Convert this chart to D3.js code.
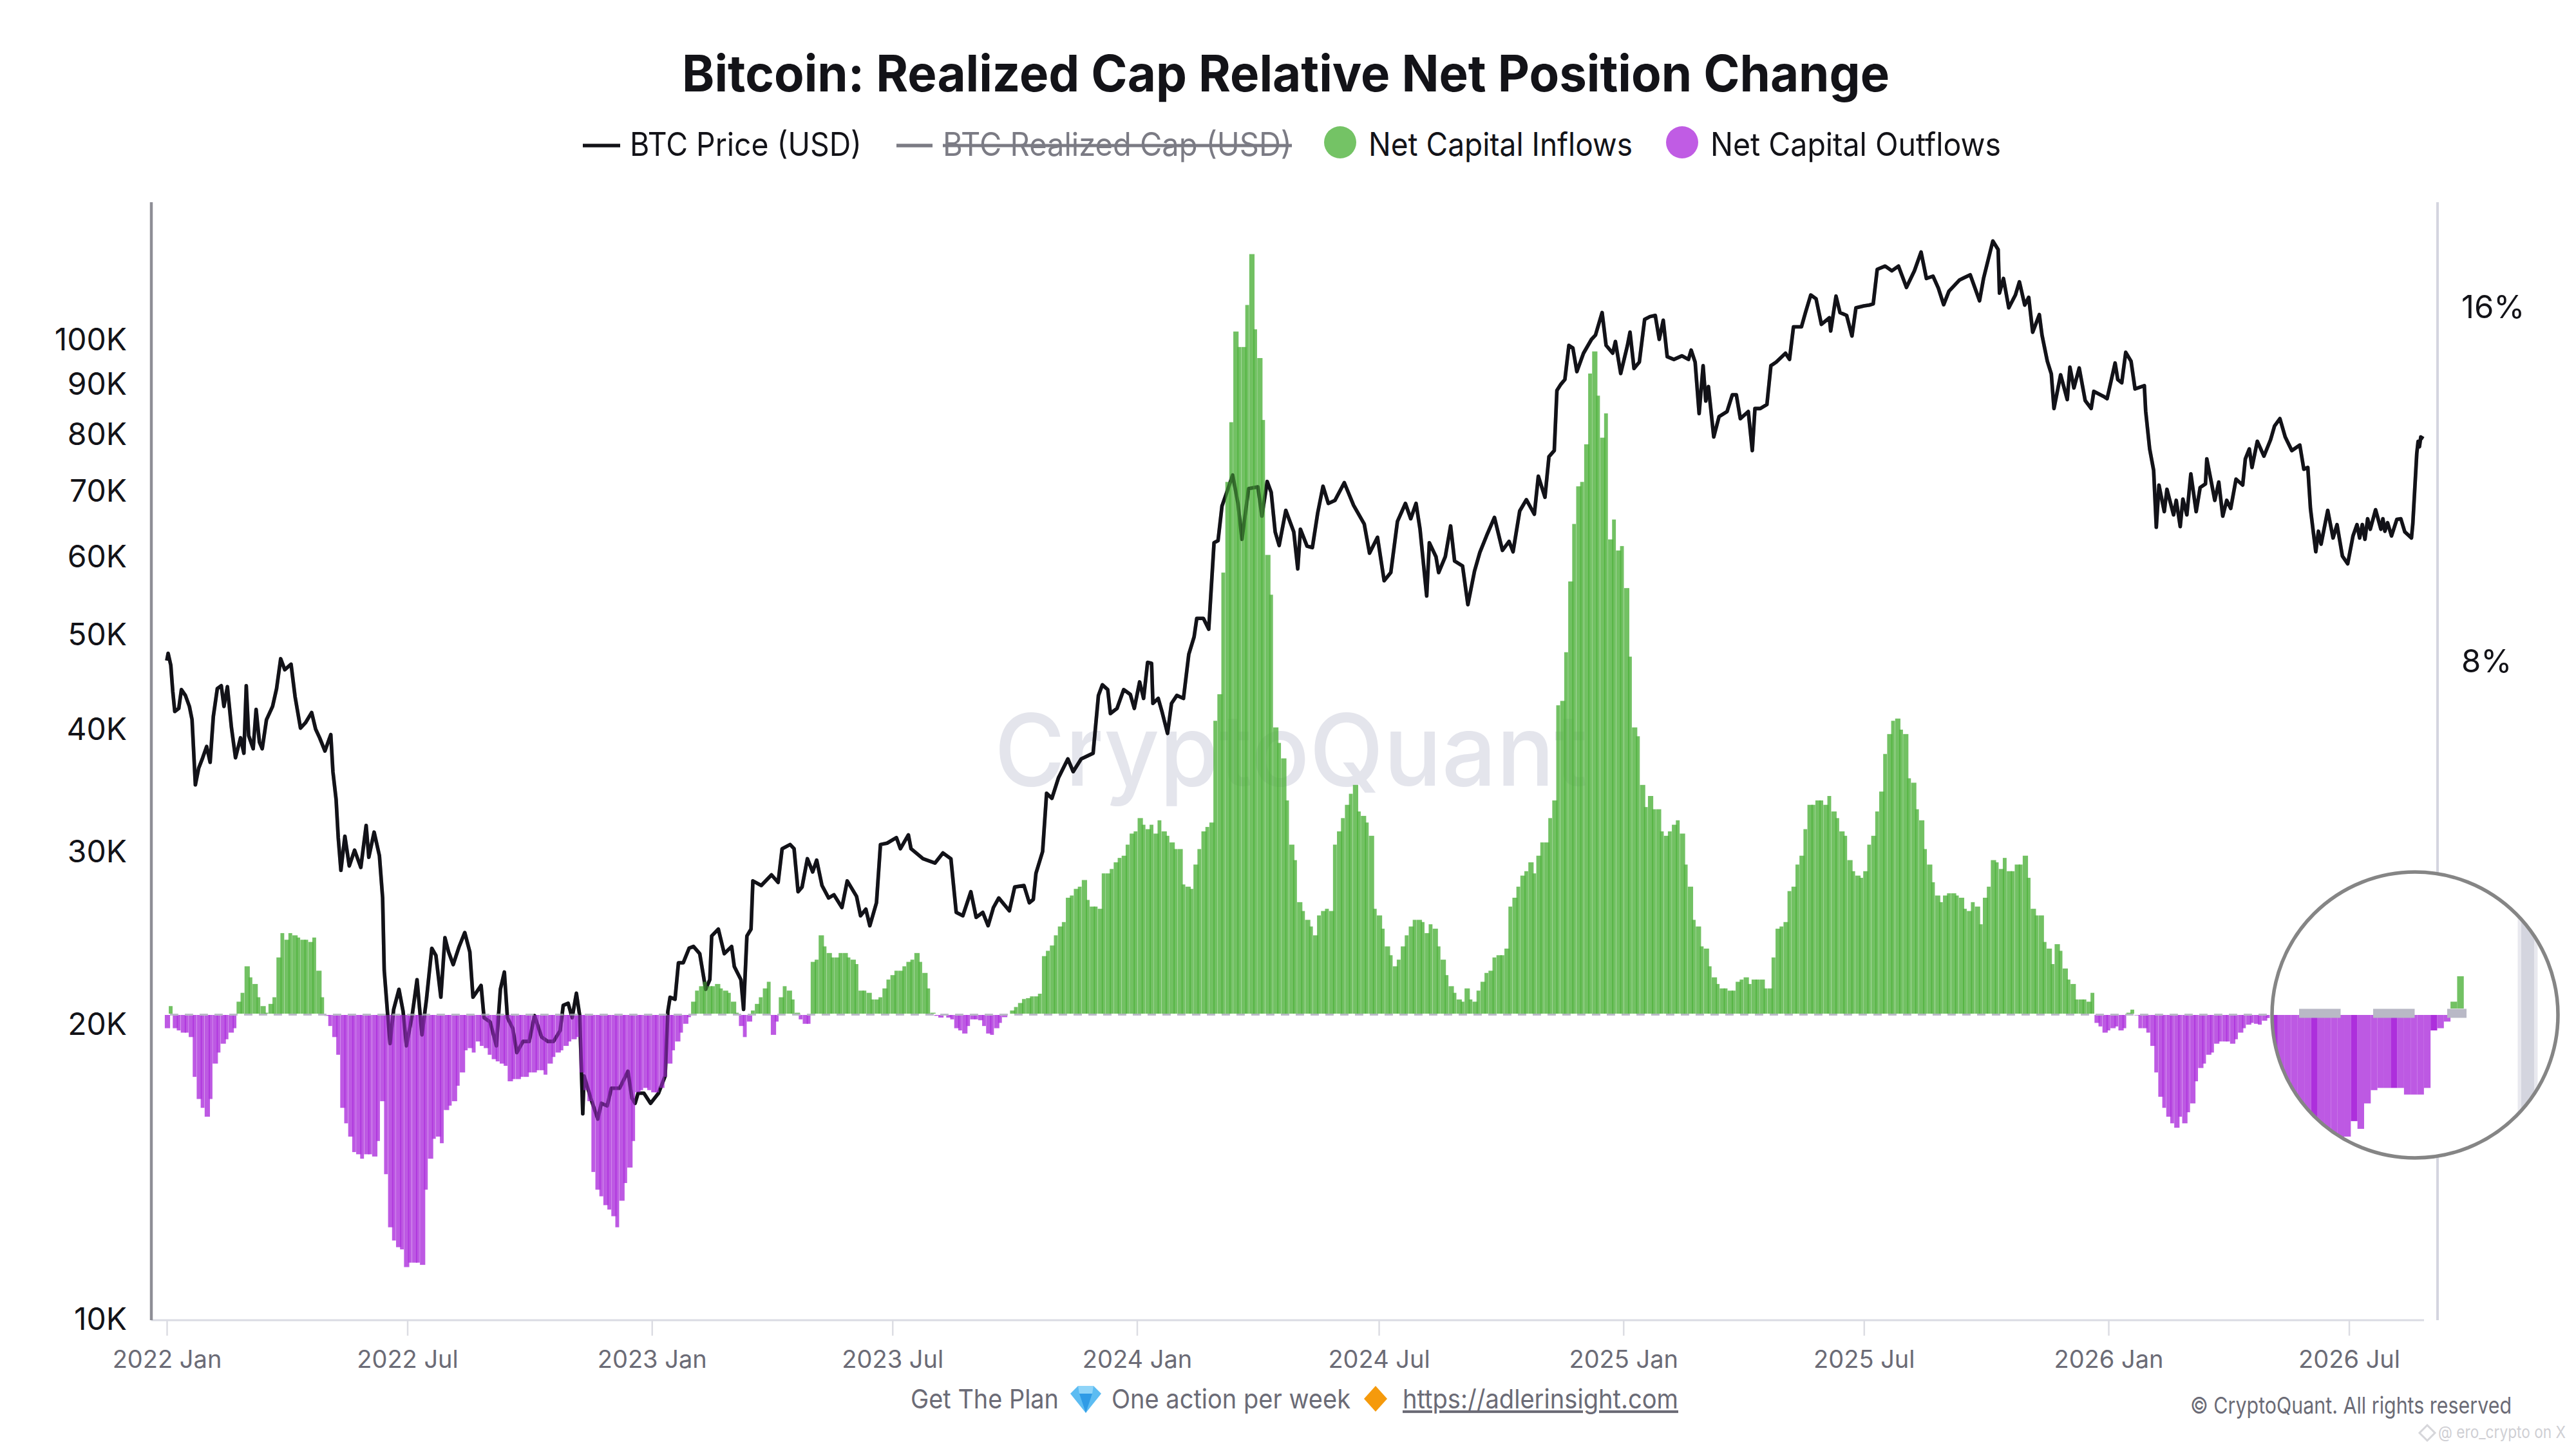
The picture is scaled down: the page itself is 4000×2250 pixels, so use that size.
<!DOCTYPE html>
<html><head><meta charset="utf-8">
<style>html,body{margin:0;padding:0;background:#fff}svg{display:block}text{font-family:Inter,"Noto Sans",sans-serif}</style>
<script src="https://cdn.jsdelivr.net/npm/d3@7/dist/d3.min.js"></script></head><body>
<svg id="c" width="4000" height="2250" viewBox="0 0 4000 2250"></svg>
<script>
const titleText="Bitcoin: Realized Cap Relative Net Position Change";
const xTickDates=["2022-01-01","2022-07-01","2023-01-01","2023-07-01","2024-01-01","2024-07-01","2025-01-01","2025-07-01","2026-01-01","2026-07-01"];
const xTickLabels=["2022 Jan","2022 Jul","2023 Jan","2023 Jul","2024 Jan","2024 Jul","2025 Jan","2025 Jul","2026 Jan","2026 Jul"];
const priceTicksK=[10,20,30,40,50,60,70,80,90,100];
const flowTicks=[8,16];
// [days since 2022-01-01, BTC price in thousand USD]
const pricePoints=[[0,47],[1,47.8],[3,46.5],[4.5,43.7],[6,41.7],[9,42],[11,43.9],[14,43.3],[17,42.2],[19,40.9],[21.5,35.1],[24,36.5],[27,37.4],[30,38.4],[32.6,37],[35,41.2],[38,44],[41,44.3],[43,42.2],[45.6,44.2],[48.6,40.2],[51.7,37.4],[55.5,39.2],[58,37.8],[59.8,44.3],[61.6,39.4],[65,38.2],[67.2,41.9],[69.7,38.8],[71.8,38.2],[75,40.9],[79.6,42.2],[82.6,44],[85.7,47.2],[88.8,46],[93.5,46.6],[96.5,43.2],[100.6,40.1],[104.3,40.6],[109,41.6],[112,40],[115,39.2],[119,38],[123.4,39.5],[125,36.2],[127.4,33.9],[129,31],[131,28.7],[134,31.1],[137.3,29],[141.3,30.1],[146,28.9],[150,31.9],[152,29.6],[156,31.4],[160,29.7],[162.4,26.9],[163.6,22.7],[166,20.6],[168,19.1],[170.7,20.7],[174.7,21.7],[177.8,20.6],[180.3,19],[184.6,20.4],[188.3,22.2],[190,20.9],[192,19.5],[195.4,21.2],[199.4,23.9],[202.5,23.5],[206.2,21.3],[209.3,24.5],[212,23.7],[215.5,23],[220,24],[224.2,24.8],[228,23.7],[230.4,21.3],[236.5,21.9],[238.7,20.3],[243.3,20.1],[248,19],[251,21.7],[254,22.6],[256.3,20.3],[260.3,19.8],[263.4,18.7],[268,19.2],[272.7,19.2],[276.7,20.4],[282,19.4],[286.6,19.2],[291,19.2],[296,19.7],[298.3,20.9],[302,21],[305,20.3],[308.2,21.5],[310.7,20.4],[313,16.2],[314,17.7],[319,16.8],[324.3,16],[327,16.6],[331.4,16.5],[334.5,17.2],[340.7,17.2],[347,17.9],[350,16.8],[352.4,16.6],[354.6,17],[359,17],[364,16.6],[370,17],[375,17.7],[377,20.6],[378.7,21.3],[382.4,21.2],[385,23.1],[388.6,23.1],[393,23.9],[396.3,24],[401,23.6],[405.5,21.7],[408.6,22.2],[410,24.6],[415,25],[419.5,23.6],[425,24],[427,22.9],[432,22.2],[434,20.7],[436.5,24.6],[439.6,25],[441,28],[447.3,27.7],[455,28.4],
[460,27.9],[463,30.2],[469,30.5],[472,30.2],[475,27.3],[478,27.6],[482,29.5],[486,28.6],[489,29.4],[493,27.7],[498,26.9],[502,27.1],[508,26.3],[512,28],[519,27],[522,25.8],[526,26.2],[529,25.2],[534,26.6],[537,30.5],[542,30.6],[549,31],[552,30.2],[558,31.2],[560,30.2],[569,29.5],[578,29.2],[584,29.9],[590,29.5],[594,26],[599,25.8],[605,27.3],[609,25.7],[614,26],[618,25.2],[622,26.3],[626,26.9],[634,26.1],[638,27.6],[645,27.7],[649,26.6],[652,26.8],[654,28.5],[659,30],[662,34.4],[666,34],[671,35.7],[678,37.3],[682,36.2],[688,37.3],[697,37.8],[701,43.3],[704,44.4],[708,43.9],[710,41.5],[715,42],[720,43.9],[725,43.4],[728,42],[732,44.7],[735,43],[738,46.8],[741,46.7],[742,42.5],[746,43],[749,41.6],[753,39.6],[756,42.5],[760,43.3],[765,43],[769,47.7],[773,49.7],[775,51.9],[780,51.9],[784,50.6],[788,62],[791,62.3],[794,67.6],[799,70.7],[802,72.7],[806,68],[809,62.5],[814,70.4],[821,70.7],[824,66],[828,71.6],[831,69.8],[834,63.6],[837,61.6],[842,66.9],[848,63.6],[851,58.3],[853,64],[858,61.5],[862,61.3],[866,66.5],[870,70.8],[874,68],[879,68.5],[886,71.4],[893,67.7],[901,64.8],[905,60.5],[911,62.8],[916,56.7],[921,57.8],[926,65.2],[932,68],[936,65.6],[940,68],[943,64],[948,54.7],[950,62],[955,60],[957,57.8],[962,60],[966,64.5],[969,59.4],[975,58.7],[979,53.6],[984,58],[988,60.6],[993,63],[999,65.8],[1005,60.9],[1010,62.2],[1013,60.7],[1018,66.8],[1023,68.6],[1029,66.3],[1032,72.5],[1037,69],
[1040,75.9],[1044,77],[1046,88.7],[1049,90],[1052,91],[1055,98.6],[1058,98],[1061,92.7],[1066,96.8],[1072,100],[1075,101],[1080,106.5],[1083,98.6],[1088,96.8],[1090,99.5],[1094,92.3],[1099,98.5],[1101,101.7],[1104,93.4],[1108,94.8],[1112,104.8],[1116,105.5],[1120,105.8],[1123,100],[1126,104.6],[1129,96],[1134,95.4],[1140,96.2],[1145,95.4],[1147,97.5],[1150,94.8],[1153,84],[1156,94],[1158,86.5],[1160,89.5],[1164,79.5],[1168,83.4],[1174,84.4],[1178,87.8],[1181,87.8],[1184,83],[1190,84.4],[1193,77],[1195,85],[1199,85],[1204,85.8],[1207,94],[1211,94.8],[1218,96.8],[1221,95.4],[1224,103],[1230,103],[1233,106.5],[1237,111],[1241,110],[1245,103.6],[1251,105.2],[1252,102],[1256,110.7],[1259,106.5],[1264,105.8],[1268,100.8],[1271,107.7],[1277,108.2],[1281,108.4],[1284,108.7],[1287,117.9],[1293,118.8],[1298,117.5],[1303,118.8],[1309,113],[1315,117.5],[1320,122.8],[1324,115.4],[1329,116],[1333,112.8],[1337,108.5],[1341,112],[1349,115],[1357,116.4],[1364,109.5],[1367,115.4],[1374,126],[1378,123.5],[1379,111.5],[1382,115.4],[1386,107.7],[1391,111],[1394,114.5],[1398,108.4],[1401,110.4],[1404,101.7],[1409,106],[1411,101],[1415,95],[1418,92.2],[1420,85],[1425,92],[1430,86.8],[1432,93.7],[1435,89.2],[1439,93.5],[1443.5,86.6],[1448,85],[1450,88.5],[1457,87.5],[1460,87],[1466,94.6],[1468,91],[1471,90.3],[1474,97],[1478,95],[1481,89],[1488,89.7],[1489,84.5],[1492,77.3],[1495,73.5],[1497,64.3],[1499,71],[1503,66.7],[1505,70.3],[1510,66.2],[1512,68.5],[1515,64.4],[1517,68.7],[1520,66.2],[1523,72.9],[1527,66.7],[1530,70.6],[1534,71.2],[1535,75.5],[1539,70.8],[1541,68.5],[1544,71.5],[1547,66],[1550,68.5],[1553,67.2],[1557,72],[1562,71],[1564,75.5],[1567,77.3],[1569,74],[1573,78.7],[1578,76],[1583,79],[1586,81.6],[1590,83],[1594,79.5],[1599,77],[1605,78],[1608,73.7],[1611,74],[1613,67.2],[1615,63.8],[1617,60.7],[1619,63.7],[1621,61.8],[1626,66.9],[1630,62.7],[1633,64.7],[1637,60.1],[1641,59],[1645,63],[1648,64.7],[1650,62.7],[1652,64.7],[1654,62.5],[1656,65.6],[1658,64],[1662,67],[1666,64],[1667.5,65.6],[1669,63.7],[1671,65],[1674,63],[1678,65.5],[1681,65.6],[1684,63.6],[1689,62.7],[1690,64.8],[1693,76.5],[1694,78.7],[1695,77.7],[1696,79.5],[1698,79.2]];
// net position change, percent, one value per three days from 2022-01-01
const flowValues=[-.3,.2,-.3,-.35,-.4,-.4,-.5,-1.4,-1.9,-2.1,
-2.3,-1.9,-1.1,-.85,-.65,-.55,-.4,-.3,.3,.5,
1.1,.85,.7,.4,.2,.05,.25,.4,1.3,1.85,
1.7,1.85,1.8,1.75,1.7,1.7,1.65,1.75,1.0,.4,
-.02,-.25,-.5,-.9,-2.1,-2.45,-2.75,-3.1,-3.15,-3.25,
-3.15,-3.15,-3.2,-2.85,-1.95,-3.6,-4.8,-5.1,-5.25,-5.3,
-5.7,-5.6,-5.6,-5.6,-5.65,-3.95,-3.25,-2.8,-2.75,-2.9,
-2.15,-2.05,-1.95,-1.6,-1.3,-.8,-.75,-.85,-.6,-.7,
-.75,-.9,-1,-1.05,-1.1,-1.15,-1.5,-1.45,-1.45,-1.4,
-1.4,-1.3,-1.3,-1.25,-1.25,-1.35,-1.1,-.95,-.85,-.8,
-.7,-.6,-.55,-.5,-1.3,-1.7,-1.95,-3.55,-3.95,-4.1,
-4.3,-4.4,-4.55,-4.8,-4.2,-3.8,-3.45,-2.85,-1.75,-1.7,
-1.65,-1.7,-1.75,-1.75,-1.65,-1.4,-1.1,-.8,-.6,-.4,
-.2,-.05,.3,.55,.65,.75,.65,.65,.7,.6,
.55,.5,.3,.05,-.25,-.5,-.15,.1,.25,.4,
.6,.75,-.45,-.15,.4,.65,.55,.35,.05,-.1,
-.2,-.2,1.2,1.25,1.8,1.55,1.4,1.3,1.3,1.4,
1.4,1.3,1.25,1.15,.55,.55,.5,.35,.35,.4,
.6,.8,.9,1,1,1.1,1.2,1.25,1.4,1.2,
.95,.6,.05,-.02,-.06,-.01,-.06,-.1,-.3,-.35,
-.42,-.25,-.1,-.1,-.12,-.25,-.42,-.45,-.3,-.18,
-.05,.02,.1,.18,.27,.36,.38,.42,.42,.48,
1.33,1.45,1.57,1.8,2,2.1,2.65,2.7,2.85,2.9,
3.05,2.6,2.45,2.45,2.4,3.2,3.2,3.3,3.45,3.55,
3.6,3.85,4.1,4.15,4.45,4.3,4.2,4.3,4.1,4.4,
4.15,4.05,3.9,3.75,3.75,2.95,2.9,2.85,3.4,3.75,
4.15,4.25,4.35,6.65,7.25,10,12.05,13.4,15.45,15.1,
15.1,16.05,17.2,15.5,14.85,13.45,10.4,9.5,6.5,6.15,
5.8,4.85,3.85,3.5,2.55,2.35,2.15,2,1.8,2.25,
2.35,2.4,2.35,3.85,4.15,4.45,4.75,5,5.2,4.6,
4.5,4.35,4.05,2.4,2.25,1.95,1.55,1.35,1.1,1.25,
1.55,1.8,2,2.15,2.15,2.1,1.85,2.05,1.95,1.55,
1.25,.9,.65,.5,.35,.3,.6,.35,.3,.55,
.75,.95,1,1.3,1.35,1.35,1.5,2.45,2.65,2.9,
3.15,3.25,3.45,3.2,3.6,3.9,3.9,4.45,4.85,7,
7.1,8.2,9.8,11.1,11.95,12.05,12.9,14.5,15,14,
13.05,13.6,10.75,11.2,10.5,10.6,9.65,8.1,6.5,6.3,
5.2,4.7,4.95,4.65,4.65,4.15,4.05,4.15,4.3,4.4,
4.1,3.4,2.9,2.15,2,1.55,1.5,1.1,.85,.7,
.6,.6,.55,.55,.75,.8,.85,.7,.8,.8,
.8,.6,.6,1.3,1.95,2,2.1,2.8,2.9,3.4,
3.6,4.2,4.75,4.75,4.85,4.85,4.75,4.95,4.6,4.45,
4.15,4.05,3.5,3.25,3.15,3.1,3.25,3.85,4.05,4.6,
5.05,5.9,6.35,6.65,6.7,6.45,6.35,5.35,5.25,4.65,
4.4,3.75,3.4,3,2.7,2.55,2.7,2.75,2.75,2.7,
2.65,2.4,2.35,2.55,2.45,2.05,2.65,2.9,3.5,3.45,
3.3,3.55,3.25,3.25,3.4,3.4,3.6,3.1,2.4,2.25,
2.25,1.65,1.5,1.15,1.6,1.45,1.05,.8,.7,.35,
.35,.35,.3,.5,-.18,-.26,-.4,-.35,-.3,-.26,
-.35,-.3,.05,.12,-.01,-.3,-.3,-.4,-.7,-1.3,
-1.85,-2.1,-2.3,-2.45,-2.55,-2.3,-2.45,-2.2,-2,-1.5,
-1.2,-1.1,-.9,-.85,-.65,-.6,-.6,-.6,-.65,-.55,
-.4,-.3,-.22,-.18,-.2,-.22,-.13,-.07];
// last days shown inside the magnifying circle: daily values from day 1670
const tailStartDay=1670;
const tailValues=[-.85,-.85,-.85,-.8,-.8,-.8,-.75,-.75,-.7,-.7,-.6,-.55,-.48,-.515,-.4,-.34,-.33,-.33,-.33,-.33,-.36,-.36,-.36,-.33,-.07,-.06,-.03,.06,.175];
const legendNames=["BTC Price (USD)","BTC Realized Cap (USD)","Net Capital Inflows","Net Capital Outflows"];

const GREEN="#4fb23c",PURPLE="#ad2fdc",BAROP=0.8,INK="#131318",GREY="#6b6b76";
const svg=d3.select("#c");
const t0=new Date(Date.UTC(2022,0,1));
const dayDate=d=>new Date(t0.getTime()+d*864e5);
const x=d3.scaleUtc().domain([t0,new Date(Date.UTC(2026,0,1))]).range([259,3274]);
const yP=d3.scaleLog().domain([10,100]).range([2048,527]);
const yF=d3.scaleLinear().domain([0,16]).range([1576,477]);
const parse=d3.utcParse("%Y-%m-%d");

function drawBars(g,vals,firstDay,stepDays,wFn,fillFn,opFn){
  const posGap=2; // green bars sit on top of the grey zero strip
  g.selectAll("rect.b").data(vals).join("rect").attr("class","b")
   .attr("x",(v,i)=>x(dayDate(firstDay+i*stepDays)))
   .attr("width",(v,i)=>wFn(x(dayDate(stepDays))-x(dayDate(0)),i))
   .attr("y",v=>v>=0?yF(v):yF(0))
   .attr("height",v=>v>=0?Math.max(0,yF(0)-yF(v)-posGap):yF(v)-yF(0))
   .attr("fill",fillFn).attr("opacity",opFn);
}
function zeroStrip(g,from,to){
  g.append("line").attr("x1",from).attr("x2",to).attr("y1",1575.5).attr("y2",1575.5)
   .attr("stroke","#b9b9c6").attr("stroke-width",2.8).attr("stroke-dasharray","12.9 10.1");
}

// watermark
svg.append("text").attr("x",1544).attr("y",1220).attr("font-size",154).attr("font-weight",500)
  .attr("fill","#e4e5ec").attr("textLength",921).attr("lengthAdjust","spacingAndGlyphs").text("CryptoQuant");

// price line (underneath translucent bars)
const priceLine=d3.line().x(p=>x(dayDate(p[0]))).y(p=>yP(p[1])).curve(d3.curveLinear);
const pathD=priceLine(pricePoints);
svg.append("path").attr("d",pathD).attr("fill","none").attr("stroke",INK).attr("stroke-width",5.6).attr("stroke-linejoin","round");

// bars
const barG=svg.append("g");
const mainFill=v=>v>=0?GREEN:PURPLE;
zeroStrip(svg.append("g"),264,3766);
drawBars(barG,flowValues,-1.5,3,(w,i)=>i%2===0?w+2:w-0.3,mainFill,BAROP);
svg.append("path").attr("d",pathD).attr("fill","none").attr("stroke",INK).attr("stroke-width",5.6).attr("stroke-linejoin","round").attr("opacity",.28);

// axes
const xAxis=d3.axisBottom(x).tickValues(xTickDates.map(parse)).tickFormat((d,i)=>xTickLabels[i]).tickSize(24).tickPadding(23);
const gx=svg.append("g").attr("transform","translate(0,2050)").call(xAxis);
gx.select(".domain").remove();
gx.selectAll("line").attr("stroke","#dcdde3").attr("stroke-width",2.5);
gx.selectAll("text").attr("font-size",38).attr("fill",GREY).attr("font-family","Inter");
svg.append("line").attr("x1",235).attr("x2",3764).attr("y1",2050).attr("y2",2050).attr("stroke","#dadbe3").attr("stroke-width",3);

const yAxis=d3.axisLeft(yP).tickValues(priceTicksK).tickFormat(d=>d+"K").tickSize(0).tickPadding(38);
const gy=svg.append("g").attr("transform","translate(235,1)").call(yAxis);
gy.select(".domain").remove();
gy.selectAll("text").attr("font-size",48).attr("fill",INK).attr("font-family","Inter");
svg.append("line").attr("x1",235).attr("x2",235).attr("y1",314).attr("y2",2050).attr("stroke","#8e8e96").attr("stroke-width",4.5);

const rAxis=d3.axisRight(yF).tickValues(flowTicks).tickFormat(d=>d+"%").tickSize(0).tickPadding(36);
const gr=svg.append("g").attr("transform","translate(3786,1)").call(rAxis);
gr.select(".domain").remove();
gr.selectAll("text").attr("font-size",49).attr("fill",INK).attr("font-family","Inter");
svg.append("line").attr("x1",3785).attr("x2",3785).attr("y1",314).attr("y2",2050).attr("stroke","#d4d5df").attr("stroke-width",4);

// title + legend
svg.append("text").attr("x",1059).attr("y",142).attr("font-size",78).attr("font-weight",700).attr("fill",INK)
  .attr("textLength",1875).attr("lengthAdjust","spacingAndGlyphs").text(titleText);
const legY=242;
const legLine=(x1,x2,c)=>svg.append("line").attr("x1",x1).attr("x2",x2).attr("y1",226).attr("y2",226).attr("stroke",c).attr("stroke-width",5.5);
const legText=(x0,len,i,c,deco)=>svg.append("text").attr("x",x0).attr("y",legY).attr("font-size",50).attr("fill",c)
  .attr("textLength",len).attr("lengthAdjust","spacingAndGlyphs").style("text-decoration",deco||null).text(legendNames[i]);
legLine(905,963,INK);legText(978,360,0,INK);
legLine(1392,1448,"#7b7b84");legText(1464,542,1,"#7b7b84","line-through");
svg.append("circle").attr("cx",2081).attr("cy",221).attr("r",25).attr("fill","#74c365");legText(2125,410,2,INK);
svg.append("circle").attr("cx",2612).attr("cy",221).attr("r",25).attr("fill","#c05ce4");legText(2656,451,3,INK);

// footer
const foot=(x0,len,s)=>svg.append("text").attr("x",x0).attr("y",2187).attr("font-size",41).attr("fill",GREY)
  .attr("textLength",len).attr("lengthAdjust","spacingAndGlyphs").text(s);
foot(1414,230,"Get The Plan");
foot(1726,371,"One action per week");
foot(2178,428,"https://adlerinsight.com").style("text-decoration","underline");
const gem=svg.append("g").attr("transform","translate(1686,2172)");
gem.append("polygon").attr("points","-24,-8 -12,-20 12,-20 24,-8 0,22").attr("fill","#5cbcf2");
gem.append("polygon").attr("points","-10,-8 10,-8 0,22").attr("fill","#2f9be6");
gem.append("polygon").attr("points","-12,-20 12,-20 10,-8 -10,-8").attr("fill","#8fd4f8");
svg.append("polygon").attr("transform","translate(2136,2172)").attr("points","0,-20 18,0 0,20 -18,0").attr("fill","#f59a0c");
svg.append("text").attr("x",3401).attr("y",2195).attr("font-size",36).attr("fill",GREY)
  .attr("textLength",499).attr("lengthAdjust","spacingAndGlyphs").text("© CryptoQuant. All rights reserved");
svg.append("text").attr("x",3786).attr("y",2233).attr("font-size",26).attr("fill","#cfcfd4")
  .attr("textLength",198).attr("lengthAdjust","spacingAndGlyphs").text("@ ero_crypto on X");
svg.append("polygon").attr("transform","translate(3769,2225)").attr("points","0,-12 12,0 0,12 -12,0").attr("fill","none").attr("stroke","#d6d6da").attr("stroke-width",3);

// magnifying circle: the last days and the right axis at five times their size
const C={cx:3750,cy:1576,r:222,k:5};
svg.append("clipPath").attr("id","lens").append("circle").attr("cx",C.cx).attr("cy",C.cy).attr("r",C.r);
const lens=svg.append("g").attr("clip-path","url(#lens)");
lens.append("circle").attr("cx",C.cx).attr("cy",C.cy).attr("r",C.r).attr("fill","#fff");
const mag=lens.append("g").attr("transform",`translate(${C.cx},${C.cy}) scale(${C.k}) translate(${-C.cx},${-C.cy})`);
mag.append("line").attr("x1",3785).attr("x2",3785).attr("y1",1300).attr("y2",1850).attr("stroke","#e9e9ef").attr("stroke-width",6.2);
mag.append("line").attr("x1",3785).attr("x2",3785).attr("y1",1300).attr("y2",1850).attr("stroke","#d4d5df").attr("stroke-width",4);
const tailBars=mag.append("g");
drawBars(tailBars,tailValues,tailStartDay,1,w=>w,v=>v>=0?GREEN:PURPLE,(v,i)=>(tailStartDay+i)%6===2?1:BAROP);
zeroStrip(mag.append("g"),264,3766);
svg.append("circle").attr("cx",C.cx).attr("cy",C.cy).attr("r",C.r).attr("fill","none").attr("stroke","#858585").attr("stroke-width",5.5);
</script></body></html>
